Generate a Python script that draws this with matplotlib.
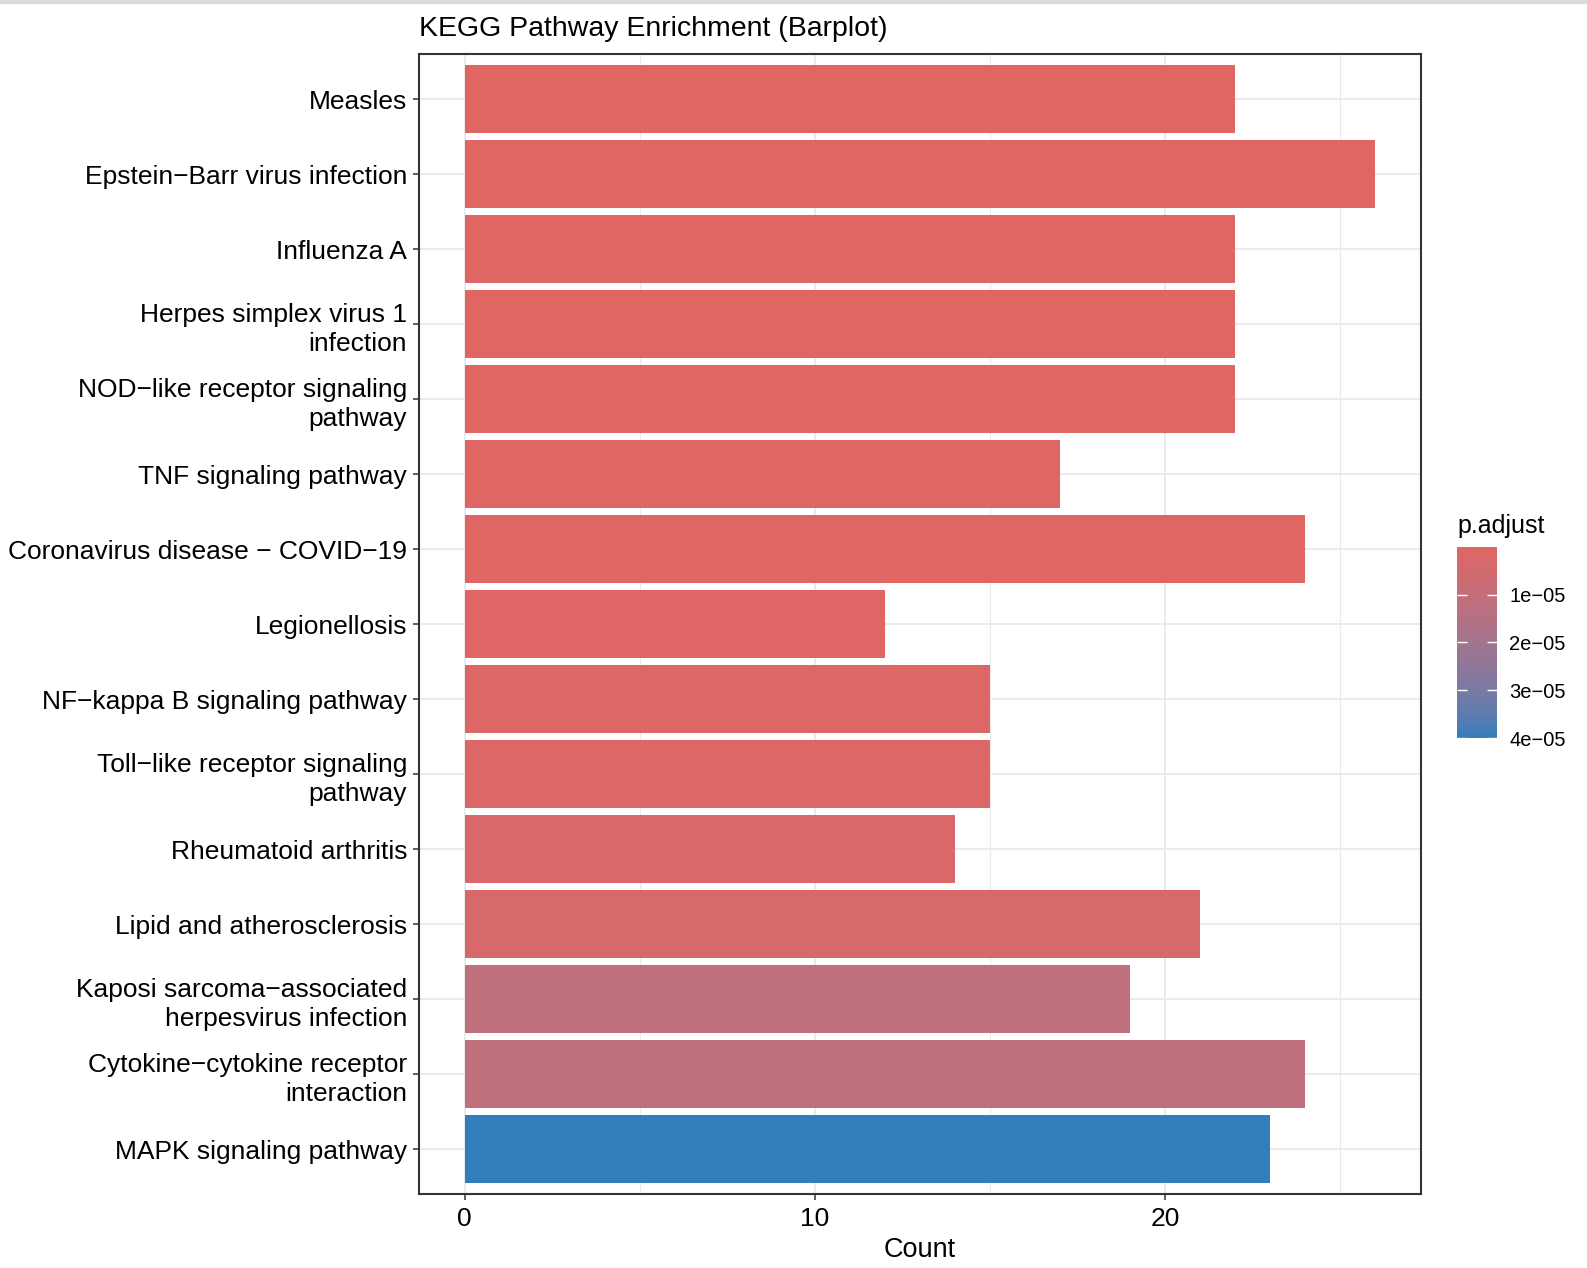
import numpy as np
import matplotlib
matplotlib.use("Agg")
import matplotlib.pyplot as plt
from matplotlib.colors import ListedColormap, Normalize, to_rgb
from matplotlib.patches import Rectangle
from matplotlib.ticker import MultipleLocator, FixedLocator

plt.rcParams['font.family'] = ['Liberation Sans', 'DejaVu Sans']

# ---- data (top to bottom as displayed) ----
pathways = [
    "Measles",
    "Epstein\u2212Barr virus infection",
    "Influenza A",
    "Herpes simplex virus 1\ninfection",
    "NOD\u2212like receptor signaling\npathway",
    "TNF signaling pathway",
    "Coronavirus disease \u2212 COVID\u221219",
    "Legionellosis",
    "NF\u2212kappa B signaling pathway",
    "Toll\u2212like receptor signaling\npathway",
    "Rheumatoid arthritis",
    "Lipid and atherosclerosis",
    "Kaposi sarcoma\u2212associated\nherpesvirus infection",
    "Cytokine\u2212cytokine receptor\ninteraction",
    "MAPK signaling pathway",
]
counts = [22, 26, 22, 22, 22, 17, 24, 12, 15, 15, 14, 21, 19, 24, 23]
p_adjust = [1.0e-9, 5.0e-9, 1.0e-8, 2.0e-8, 5.0e-8, 1.0e-7, 2.0e-7, 4.0e-7,
            1.0e-6, 1.3e-6, 2.5e-6, 3.2e-6, 1.2e-5, 1.2e-5, 4.0e-5]
legend_ticks = [1e-05, 2e-05, 3e-05, 4e-05]
legend_labels = ["1e\u221205", "2e\u221205", "3e\u221205", "4e\u221205"]
x_ticks = [0, 10, 20]

low_col, high_col = "#e06663", "#327eba"

# ---- Lab interpolation (like ggplot's gradient) ----
def srgb_to_lab(rgb):
    rgb = np.asarray(rgb, float)
    lin = np.where(rgb <= 0.04045, rgb / 12.92, ((rgb + 0.055) / 1.055) ** 2.4)
    M = np.array([[0.4124564, 0.3575761, 0.1804375],
                  [0.2126729, 0.7151522, 0.0721750],
                  [0.0193339, 0.1191920, 0.9503041]])
    xyz = M @ lin
    wp = np.array([0.95047, 1.0, 1.08883])
    t = xyz / wp
    f = np.where(t > (6 / 29) ** 3, np.cbrt(t), t / (3 * (6 / 29) ** 2) + 4 / 29)
    return np.array([116 * f[1] - 16, 500 * (f[0] - f[1]), 200 * (f[1] - f[2])])

def lab_to_srgb(lab):
    L, a, b = lab
    fy = (L + 16) / 116
    fx = fy + a / 500
    fz = fy - b / 200
    f = np.array([fx, fy, fz])
    t = np.where(f > 6 / 29, f ** 3, 3 * (6 / 29) ** 2 * (f - 4 / 29))
    xyz = t * np.array([0.95047, 1.0, 1.08883])
    Minv = np.array([[3.2404542, -1.5371385, -0.4985314],
                     [-0.9692660, 1.8760108, 0.0415560],
                     [0.0556434, -0.2040259, 1.0572252]])
    lin = Minv @ xyz
    lin = np.clip(lin, 0, 1)
    rgb = np.where(lin <= 0.0031308, 12.92 * lin, 1.055 * lin ** (1 / 2.4) - 0.055)
    return np.clip(rgb, 0, 1)

lab_lo = srgb_to_lab(to_rgb(low_col))
lab_hi = srgb_to_lab(to_rgb(high_col))
cols = [lab_to_srgb(lab_lo + (lab_hi - lab_lo) * t) for t in np.linspace(0, 1, 256)]
cmap = ListedColormap(cols)
norm = Normalize(vmin=min(p_adjust), vmax=max(p_adjust))

# ---- figure ----
W, H = 1587, 1268
fig = plt.figure(figsize=(W / 100, H / 100), dpi=100)
fig.patch.set_facecolor("white")
fig.add_artist(Rectangle((0, 1 - 3 / H), 1, 3 / H, transform=fig.transFigure,
                         color="#dcdcdc", zorder=0))

left, right, top, bottom = 419, 1421, 54, 1194
ax = fig.add_axes([left / W, 1 - bottom / H, (right - left) / W, (bottom - top) / H])

n = len(pathways)
ypos = np.arange(n)
ax.barh(ypos, counts, height=0.9, color=cmap(norm(np.array(p_adjust))), zorder=3)

ax.set_xlim(-0.05 * max(counts), max(counts) * 1.05)
ax.set_ylim(n - 1 + 0.6, -0.6)

ax.set_yticks(ypos)
ax.set_yticklabels(pathways, fontsize=19, linespacing=1.29)
ax.xaxis.set_major_locator(FixedLocator(x_ticks))
ax.xaxis.set_minor_locator(MultipleLocator(5))
ax.tick_params(axis='both', which='major', length=4.5, width=1.1, color="#333333",
               labelsize=19, pad=4, labelcolor="black")
ax.tick_params(axis='x', which='major', pad=5)
ax.tick_params(axis='x', which='minor', length=0)

ax.grid(True, which='major', color="#ebebeb", linewidth=1.4, zorder=0)
ax.grid(True, which='minor', axis='x', color="#ebebeb", linewidth=0.8, zorder=0)
ax.set_axisbelow(True)
for s in ax.spines.values():
    s.set_color("#333333")
    s.set_linewidth(1.5)

ax.set_xlabel("Count", fontsize=19.5, labelpad=4)
fig.text(left / W, 1 - 36 / H, "KEGG Pathway Enrichment (Barplot)", fontsize=20.5,
         ha='left', va='baseline')

# ---- colorbar legend ----
cb_l, cb_r, cb_t, cb_b = 1457, 1497, 547, 738
cax = fig.add_axes([cb_l / W, 1 - cb_b / H, (cb_r - cb_l) / W, (cb_b - cb_t) / H])
grad = np.linspace(norm.vmin, norm.vmax, 300).reshape(-1, 1)
cax.imshow(grad, aspect='auto', cmap=cmap, norm=norm, origin='upper',
           extent=[0, 1, norm.vmax, norm.vmin])
cax.set_xlim(0, 1)
cax.set_ylim(norm.vmax, norm.vmin)
cax.set_xticks([])
cax.yaxis.tick_right()
cax.set_yticks(legend_ticks)
cax.set_yticklabels(legend_labels, fontsize=14.5)
cax.tick_params(axis='y', direction='in', left=True, right=True, length=7,
                width=1.0, color="white", pad=9, labelcolor="black")
for s in cax.spines.values():
    s.set_visible(False)
fig.text(cb_l / W, 1 - 533 / H, "p.adjust", fontsize=18, ha='left', va='baseline')

fig.savefig("out.png", dpi=100, facecolor="white")
